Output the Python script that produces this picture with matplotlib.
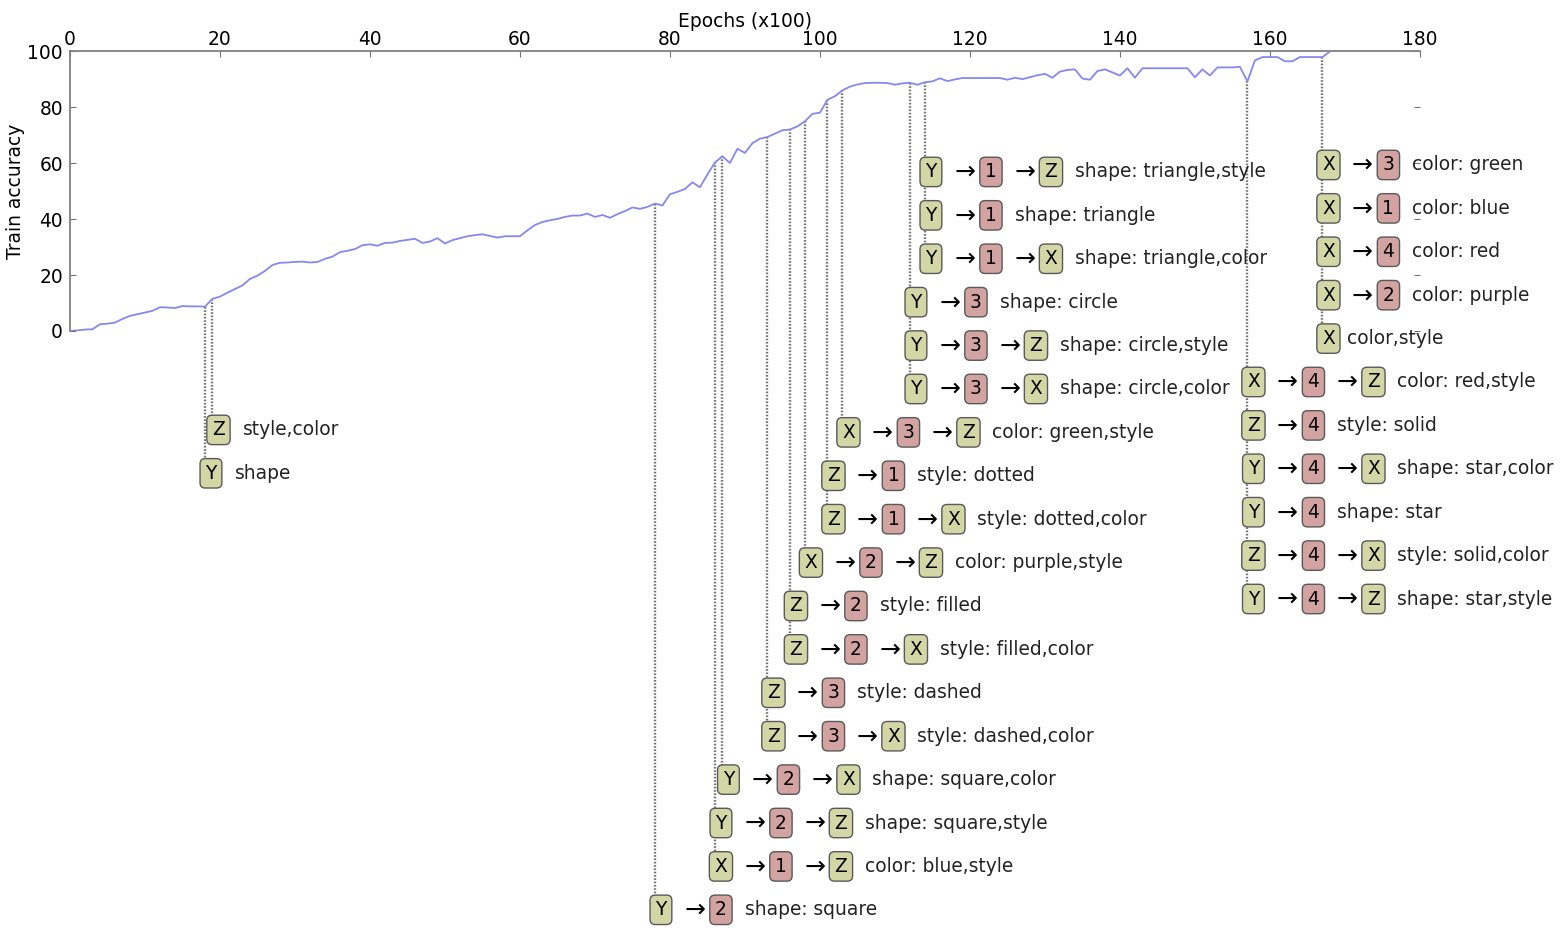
import numpy as np
import matplotlib
matplotlib.use('Agg')
import matplotlib.pyplot as plt

# training curve (epochs in units of 100)
epochs = list(range(0, 169))
train_acc = [
    0.0, 0.2, 0.5, 0.6, 2.4, 2.6, 3.0, 4.3, 5.4, 6.0,
    6.6, 7.2, 8.5, 8.4, 8.2, 8.9, 8.8, 8.8, 8.7, 11.5,
    12.3, 13.7, 15.0, 16.3, 18.6, 19.8, 21.5, 23.6, 24.4, 24.5,
    24.7, 24.8, 24.5, 24.7, 25.8, 26.6, 28.2, 28.7, 29.3, 30.7,
    31.0, 30.5, 31.5, 31.6, 32.2, 32.6, 33.0, 31.5, 32.0, 33.2,
    31.3, 32.5, 33.2, 33.9, 34.3, 34.6, 34.0, 33.4, 33.9, 33.9,
    33.9, 36.0, 37.9, 39.0, 39.6, 40.1, 40.8, 41.3, 41.3, 42.0,
    40.8, 41.5, 40.5, 41.8, 42.9, 44.2, 43.7, 44.4, 45.6, 44.9,
    48.9, 49.8, 50.8, 53.2, 51.4, 56.0, 60.3, 62.5, 60.1, 65.2,
    63.7, 67.2, 68.8, 69.4, 70.6, 71.8, 72.1, 73.2, 75.0, 77.7,
    78.1, 82.7, 84.0, 86.1, 87.4, 88.2, 88.7, 88.8, 88.8, 88.7,
    88.1, 88.6, 88.8, 88.1, 89.0, 89.3, 90.4, 89.4, 90.0, 90.5,
    90.5, 90.5, 90.5, 90.5, 90.5, 89.9, 90.6, 90.1, 90.8, 91.5,
    92.0, 90.6, 92.8, 93.4, 93.6, 90.3, 89.9, 93.0, 93.6, 92.5,
    91.4, 94.0, 90.6, 94.0, 94.0, 94.0, 94.0, 94.0, 94.0, 94.0,
    90.8, 93.6, 91.4, 94.3, 94.3, 94.3, 94.5, 89.3, 96.8, 98.0,
    98.0, 98.0, 96.5, 96.5, 98.0, 98.0, 98.0, 98.0, 100.0,
]

# annotation stacks, top to bottom: (epoch, chain, description)
stack_mid = [
    (114, 'Y1Z', 'shape: triangle,style'),
    (114, 'Y1', 'shape: triangle'),
    (114, 'Y1X', 'shape: triangle,color'),
    (112, 'Y3', 'shape: circle'),
    (112, 'Y3Z', 'shape: circle,style'),
    (112, 'Y3X', 'shape: circle,color'),
    (103, 'X3Z', 'color: green,style'),
    (101, 'Z1', 'style: dotted'),
    (101, 'Z1X', 'style: dotted,color'),
    (98, 'X2Z', 'color: purple,style'),
    (96, 'Z2', 'style: filled'),
    (96, 'Z2X', 'style: filled,color'),
    (93, 'Z3', 'style: dashed'),
    (93, 'Z3X', 'style: dashed,color'),
    (87, 'Y2X', 'shape: square,color'),
    (86, 'Y2Z', 'shape: square,style'),
    (86, 'X1Z', 'color: blue,style'),
    (78, 'Y2', 'shape: square'),
]
stack_right = [
    (167, 'X3', 'color: green'),
    (167, 'X1', 'color: blue'),
    (167, 'X4', 'color: red'),
    (167, 'X2', 'color: purple'),
    (167, 'X', 'color,style'),
    (157, 'X4Z', 'color: red,style'),
    (157, 'Z4', 'style: solid'),
    (157, 'Y4X', 'shape: star,color'),
    (157, 'Y4', 'shape: star'),
    (157, 'Z4X', 'style: solid,color'),
    (157, 'Y4Z', 'shape: star,style'),
]
stack_left = [
    (19, 'Z', 'style,color'),
    (18, 'Y', 'shape'),
]

GREEN = '#d3d7a6'
RED = '#d2a3a1'
ROW_STEP = 15.53
FS = 13.4

fig = plt.figure(figsize=(15.65, 9.36), dpi=100)
ax = fig.add_axes([0.0447, 0.6464, 0.8626, 0.2986])
ax.plot(epochs, train_acc, color='#8787f0', lw=1.3, zorder=3)
ax.set_xlim(0, 180)
ax.set_ylim(0, 100)
ax.set_xticks(range(0, 181, 20))
ax.set_yticks(range(0, 101, 20))
ax.xaxis.tick_top()
ax.xaxis.set_label_position('top')
ax.set_xlabel('Epochs (x100)', fontsize=FS, labelpad=2)
ax.set_ylabel('Train accuracy', fontsize=FS, labelpad=2)
ax.tick_params(axis='both', direction='in', length=4, color='0.45',
               labelsize=FS, pad=5)
ax.tick_params(axis='x', pad=2)
ax.tick_params(axis='y', right=True, labelright=False)
ax.spines['bottom'].set_visible(False)
ax.spines['right'].set_visible(False)
for s in ('top', 'left'):
    ax.spines[s].set_color('0.5')
    ax.spines[s].set_linewidth(1.3)


def put(txt, x, y, dx, **kw):
    ax.annotate(txt, (x, y), xytext=(dx, 0), textcoords='offset pixels',
                va='center', annotation_clip=False, **kw)


def draw_row(epoch, y, chain, label):
    dx = 6
    for i, tok in enumerate(chain):
        if i > 0:
            put('\u2192', epoch, y, dx - 26, ha='center', fontsize=18, zorder=4)
        fc = RED if tok.isdigit() else GREEN
        put(tok, epoch, y, dx, ha='center', fontsize=FS, zorder=5,
            bbox=dict(boxstyle='round,pad=0.28', fc=fc, ec='0.35', lw=1.0))
        dx += 60
    gap = 19 if len(chain) == 1 and epoch > 100 else 24
    put(label, epoch, y, dx - 60 + gap, ha='left', fontsize=FS,
        color='#222222', zorder=4)


lowest = {}
for top, stack in ((56.9, stack_mid), (59.4, stack_right), (-35.4, stack_left)):
    for i, (ep, chain, label) in enumerate(stack):
        y = top - i * ROW_STEP
        draw_row(ep, y, chain, label)
        lowest[ep] = min(lowest.get(ep, y), y)

for ep, y_low in lowest.items():
    y_top = np.interp(ep, epochs, train_acc)
    ax.plot([ep, ep], [y_top, y_low], color='0.45', lw=1.7,
            linestyle=(0, (0.7, 0.7)), clip_on=False, zorder=2)

fig.savefig('out.png', dpi=100)
